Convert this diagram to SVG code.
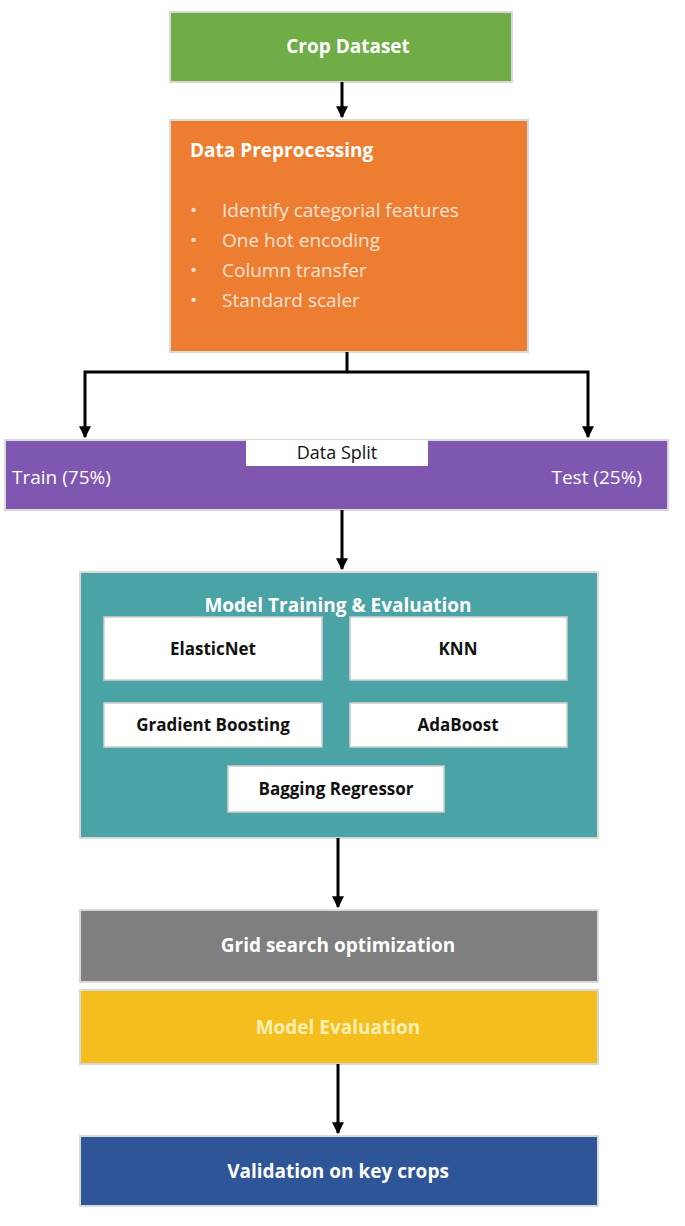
<svg xmlns="http://www.w3.org/2000/svg" width="685" height="1226" viewBox="0 0 685 1226">
<style>
.t{font-family:"Open Sans","Liberation Sans",sans-serif;font-weight:bold;font-size:19px;text-anchor:middle;fill:#fff}
.w{font-family:"Open Sans","Liberation Sans",sans-serif;font-size:19px;fill:#fbe3d3}
.b{font-family:"Open Sans","Liberation Sans",sans-serif;font-weight:bold;font-size:17px;text-anchor:middle;fill:#111}
.box{stroke:#d9d9d9;stroke-width:2}
.in{fill:#fff;stroke:#cfcfcf;stroke-width:1.5}
.c{stroke:#000;stroke-width:3;fill:none}
</style>
<defs><marker id="a" viewBox="0 0 10 10" refX="9" refY="5" markerWidth="4" markerHeight="4" orient="auto"><path d="M0,0L10,5L0,10z" fill="#000"/></marker></defs>
<rect width="685" height="1226" fill="#fff"/>
<g id="crop"><rect class="box" x="170" y="12" width="342" height="70" fill="#70ad47"/><text class="t" x="348" y="53">Crop Dataset</text></g>
<g id="prep"><rect class="box" x="170" y="120" width="358" height="232" fill="#ed7d31"/>
<text class="t" x="190" y="157" style="text-anchor:start">Data Preprocessing</text>
<g class="w"><text x="190" y="217">•</text><text x="222" y="217">Identify categorial features</text>
<text x="190" y="247">•</text><text x="222" y="247">One hot encoding</text>
<text x="190" y="277">•</text><text x="222" y="277">Column transfer</text>
<text x="190" y="307">•</text><text x="222" y="307">Standard scaler</text></g></g>
<g id="split"><rect class="box" x="5" y="440" width="663" height="70" fill="#7f56b0"/>
<rect x="246" y="440" width="182" height="26" fill="#fff"/>
<text x="337" y="459" style="font-family:'Open Sans','Liberation Sans',sans-serif;font-size:18px;text-anchor:middle;fill:#111">Data Split</text>
<text class="t" x="12" y="484" style="text-anchor:start;font-weight:normal">Train (75%)</text>
<text class="t" x="642" y="484" style="text-anchor:end;font-weight:normal">Test (25%)</text></g>
<g id="train"><rect class="box" x="80" y="572" width="518" height="266" fill="#4aa3a5"/>
<text class="t" x="338" y="612">Model Training &amp; Evaluation</text>
<rect class="in" x="104" y="617" width="218" height="63"/><text class="b" x="213" y="655">ElasticNet</text>
<rect class="in" x="350" y="617" width="217" height="63"/><text class="b" x="458" y="655">KNN</text>
<rect class="in" x="104" y="703" width="218" height="44"/><text class="b" x="213" y="731">Gradient  Boosting</text>
<rect class="in" x="350" y="703" width="217" height="44"/><text class="b" x="458" y="731">AdaBoost</text>
<rect class="in" x="228" y="766" width="216" height="46"/><text class="b" x="336" y="795">Bagging Regressor</text></g>
<g id="grid"><rect class="box" x="80" y="910" width="518" height="72" fill="#7f7f7f"/><text class="t" x="338" y="952">Grid search optimization</text></g>
<g id="eval"><rect class="box" x="80" y="990" width="518" height="74" fill="#f5be1f"/><text class="t" x="338" y="1034" style="fill:#fbf0b0">Model Evaluation</text></g>
<g id="valid"><rect class="box" x="80" y="1136" width="518" height="70" fill="#2e5597"/><text class="t" x="338" y="1178">Validation on key crops</text></g>
<g id="connectors">
<path class="c" d="M342,82V117" marker-end="url(#a)"/>
<path class="c" d="M347,352V372H85V437" marker-end="url(#a)"/>
<path class="c" d="M347,372H588V437" marker-end="url(#a)"/>
<path class="c" d="M342,510V569" marker-end="url(#a)"/>
<path class="c" d="M338,838V907" marker-end="url(#a)"/>
<path class="c" d="M338,1064V1133" marker-end="url(#a)"/>
</g>
</svg>
